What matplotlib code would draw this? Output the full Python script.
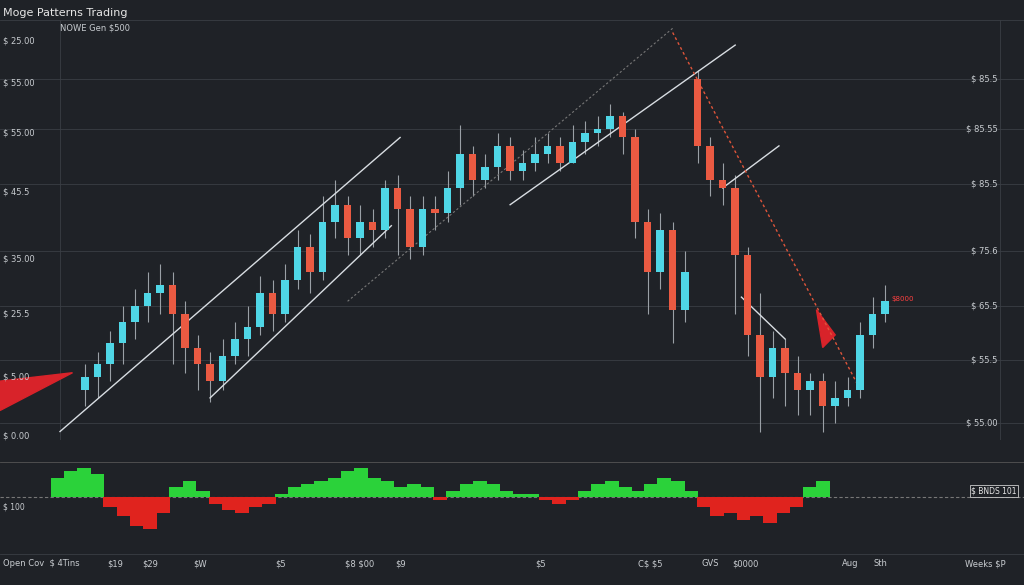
import numpy as np
import matplotlib.pyplot as plt

plt.rcParams["text.parse_math"] = False

# candle data (price units 0-100)
opens = [12, 15, 18, 23, 28, 32, 35, 37, 30, 22, 18, 14, 20, 24, 27, 35, 30, 38, 46, 40, 52, 56, 48, 52, 50,
         60, 55, 46, 55, 54, 60, 68, 62, 65, 70, 64, 66, 68, 70, 66, 71, 73, 74, 77, 72, 52, 40, 50, 31, 86,
         70, 62, 60, 44, 25, 15, 22, 16, 12, 14, 8, 10, 12, 25, 30]
closes = [15, 18, 23, 28, 32, 35, 37, 30, 22, 18, 14, 20, 24, 27, 35, 30, 38, 46, 40, 52, 56, 48, 52, 50, 60,
          55, 46, 55, 54, 60, 68, 62, 65, 70, 64, 66, 68, 70, 66, 71, 73, 74, 77, 72, 52, 40, 50, 31, 40, 70,
          62, 60, 44, 25, 15, 22, 16, 12, 14, 8, 10, 12, 25, 30, 33]
highs = [18, 21, 26, 32, 36, 40, 42, 40, 33, 25, 21, 24, 28, 32, 39, 38, 42, 50, 49, 58, 62, 58, 56, 55, 62,
         63, 58, 58, 58, 64, 75, 70, 68, 73, 72, 69, 72, 73, 72, 75, 76, 77, 80, 78, 74, 55, 54, 52, 45, 88,
         72, 66, 63, 46, 35, 26, 24, 20, 16, 16, 14, 15, 28, 34, 37]
lows = [8, 10, 14, 18, 24, 28, 30, 18, 16, 12, 9, 12, 18, 20, 25, 26, 28, 36, 35, 38, 48, 44, 44, 46, 48,
        44, 43, 44, 50, 52, 56, 58, 60, 62, 62, 62, 64, 66, 64, 66, 68, 70, 72, 68, 48, 30, 36, 23, 28, 66,
        58, 56, 30, 20, 2, 10, 8, 6, 6, 2, 4, 8, 10, 22, 28]

# momentum histogram
hist_vals = [0.6, 0.8, 0.9, 0.7, -0.3, -0.6, -0.9, -1.0, -0.5, 0.3, 0.5, 0.2, -0.2, -0.4, -0.5, -0.3, -0.2,
             0.1, 0.3, 0.4, 0.5, 0.6, 0.8, 0.9, 0.6, 0.5, 0.3, 0.4, 0.3, -0.1, 0.2, 0.4, 0.5, 0.4, 0.2, 0.1,
             0.1, -0.1, -0.2, -0.1, 0.2, 0.4, 0.5, 0.3, 0.2, 0.4, 0.6, 0.5, 0.2, -0.3, -0.6, -0.5, -0.7,
             -0.6, -0.8, -0.5, -0.3, 0.3, 0.5]

right_labels = ["$ 85.5", "$ 85.55", "$ 85.5", "$ 75.6", "$ 65.5", "$ 55.5", "$ 55.00"]
right_y = [86, 74, 61, 45, 32, 19, 4]
left_labels = ["$ 25.00", "$ 55.00", "$ 55.00", "$ 45.5", "$ 35.00", "$ 25.5", "$ 5.00", "$ 0.00"]
left_y = [95, 85, 73, 59, 43, 30, 15, 1]
x_labels = ["$19", "$29", "$W", "$5", "$8 $00", "$9", "$5", "C$ $5", "GVS", "$0000", "Aug", "Sth", "Weeks $P"]
x_label_x = [2.4, 5.2, 9.2, 15.6, 22, 25.2, 36.4, 45.2, 50, 52.8, 61.2, 63.6, 72]

BG = "#1f2227"
UP = "#4fd6e6"
DOWN = "#ea5a42"

fig = plt.figure(figsize=(10.24, 5.85), dpi=100, facecolor=BG)
ax = fig.add_axes([0, 0.248, 1, 0.718], facecolor=BG)
ax2 = fig.add_axes([0, 0.051, 1, 0.171], facecolor=BG)

xs = np.arange(len(closes))
for i in xs:
    o, c = opens[i], closes[i]
    col = UP if c >= o else DOWN
    ax.vlines(i, lows[i], highs[i], color="#9aa0a6", lw=0.8, zorder=2)
    ax.bar(i, abs(c - o) if abs(c - o) > 0.5 else 0.5, bottom=min(o, c), width=0.6,
           color=col, zorder=3)

# trend lines
ax.plot([-2, 25.2], [2, 72], color="#d8dde2", lw=1)
ax.plot([10, 24.5], [10, 51], color="#d8dde2", lw=1)
ax.plot([34, 52], [56, 94], color="#d8dde2", lw=1)
ax.plot([51, 55.5], [60, 70], color="#d8dde2", lw=1)
ax.plot([52.5, 56], [34, 24], color="#d8dde2", lw=1)
ax.plot([47, 62], [97, 12], color="#e0553a", lw=1, ls=(0, (2, 2)))
ax.plot([21, 47], [33, 98], color="#777", lw=0.8, ls=(0, (2, 2)))
ax.fill([58.5, 60, 59], [31, 25, 22], color="#d8232a")
ax.fill([-6.8, -1, -6.8], [14, 16, 7], color="#d8232a")

for y in [0, 100] + right_y:
    ax.axhline(y, color="#3a3e44", lw=0.6, zorder=0)
for xv in [-2, 73.2]:
    ax.axvline(xv, color="#3a3e44", lw=0.6, zorder=0)

ax.set_xlim(-6.8, 75.1)
ax.set_ylim(0, 100)
ax.axis("off")
for lab, y in zip(right_labels, right_y):
    ax.text(73, y, lab, color="#c8ccd0", fontsize=6, ha="right", va="center")
for lab, y in zip(left_labels, left_y):
    ax.text(-6.6, y, lab, color="#c8ccd0", fontsize=6, ha="left", va="center")
ax.text(-6.6, 100.5, "Moge Patterns Trading", color="#e6e6e6", fontsize=8, va="bottom")
ax.text(-2, 97.5, "NOWE Gen $500", color="#c8ccd0", fontsize=6)
ax.text(64.5, 33, "$8000", color="#ff4040", fontsize=5)

hx = np.linspace(-2.2, 59, len(hist_vals))
hcols = ["#2bd23a" if v >= 0 else "#e0231e" for v in hist_vals]
ax2.bar(hx, hist_vals, width=(hx[1] - hx[0]) * 1.05, color=hcols, zorder=3)
ax2.axhline(0, color="#777", lw=0.8, ls=(0, (3, 2)))
ax2.axhline(1.1, color="#555", lw=0.6)
ax2.text(74.5, 0.1, "$ BNDS 101", color="#e6e6e6", fontsize=5.5, ha="right",
         bbox=dict(fc=BG, ec="#ccc", lw=0.6, pad=1))
ax2.text(-6.6, -0.4, "$ 100", color="#c8ccd0", fontsize=5.5)
ax2.axhline(-1.75, color="#3a3e44", lw=0.6)
for lab, xv in zip(x_labels, x_label_x):
    ax2.text(xv, -2.15, lab, color="#c8ccd0", fontsize=6, ha="center", clip_on=False)
ax2.text(-6.6, -2.15, "Open Cov  $ 4Tins", color="#c8ccd0", fontsize=6, clip_on=False)
ax2.set_xlim(-6.8, 75.1)
ax2.set_ylim(-1.8, 1.3)
ax2.axis("off")

fig.savefig("out.png", dpi=100, facecolor=BG)
